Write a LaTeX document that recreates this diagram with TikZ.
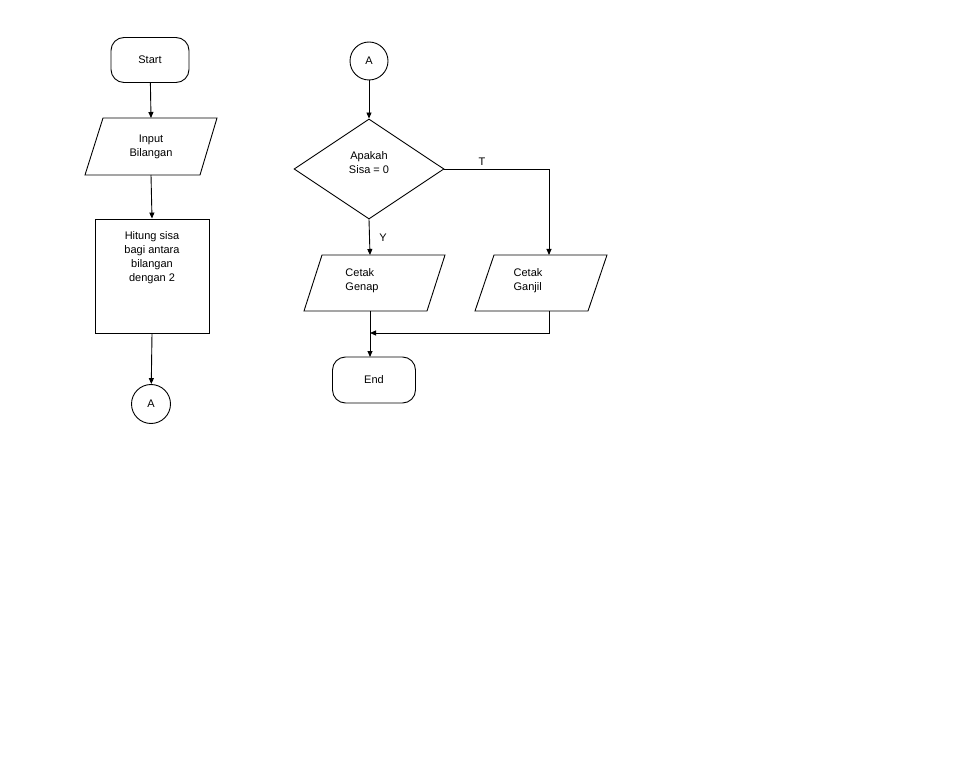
\documentclass[tikz,border=0pt]{standalone}
\usepackage{fontspec}
\setmainfont{Liberation Sans}
\usetikzlibrary{arrows.meta,shapes.geometric}
\begin{document}
\begin{tikzpicture}[x=1pt,y=-1pt,line width=0.9pt,>={Triangle[length=6pt,width=5pt]},
  lbl/.style={font=\fontsize{11}{14}\selectfont,align=center},
  term/.style={draw,rounded corners=13pt,minimum width=78pt,minimum height=45pt,lbl},
  conn/.style={draw,circle,minimum size=39pt,inner sep=0pt,lbl}]
\useasboundingbox (0,0) rectangle (962,762);
% left column
\node[term] (start) at (150,60) {Start};
\draw (103,118) -- (217,118) -- (200,175) -- (85,175) -- cycle;
\node[lbl] (inp) at (151,147) {Input\\Bilangan};
\coordinate (inpT) at (151,118); \coordinate (inpB) at (151,175);
\node[draw,minimum width=114pt,minimum height=114pt] (hit) at (152,276) {};
\node[lbl,anchor=north] (hitt) at (152,228) {Hitung sisa\\bagi antara\\bilangan\\dengan 2};
\node[conn,minimum size=39pt] (a1) at (151,404) {A};
\draw[->] (start) -- (inpT);
\draw[->] (inpB) -- (hit.north);
\draw[->] (hit.south) -- (a1);
% right
\node[conn,minimum size=38pt] (a2) at (369,61) {A};
\node[draw,diamond,minimum width=150pt,minimum height=100pt,inner sep=0pt,aspect=1.5] (dec) at (369,169) {};
\node[lbl] at (369,163) {Apakah\\Sisa = 0};
\draw (322,255) -- (445,255) -- (427,311) -- (304,311) -- cycle;
\node[lbl,align=left] (gen) at (362,281) {Cetak\\Genap};
\coordinate (genT) at (370,255); \coordinate (genB) at (370,311);
\draw (494,255) -- (607,255) -- (588,311) -- (475,311) -- cycle;
\node[lbl,align=left] (gan) at (528,281) {Cetak\\Ganjil};
\coordinate (ganT) at (549,255); \coordinate (ganB) at (549,311);
\node[term,minimum width=83pt,minimum height=46pt] (end) at (374,380) {End};
\coordinate (join) at (370,333);
\draw[->] (a2) -- (dec.north);
\draw[->] (dec.east) -- (549,169) node[lbl,pos=0.36,above] {T} -- (ganT);
\draw[->] (dec.south) -- (genT) node[lbl,midway,right,xshift=6pt] {Y};
\draw[->] (ganB) -- (549,333) -- (join);
\draw[->] (genB) -- (370,357);
\end{tikzpicture}
\end{document}
